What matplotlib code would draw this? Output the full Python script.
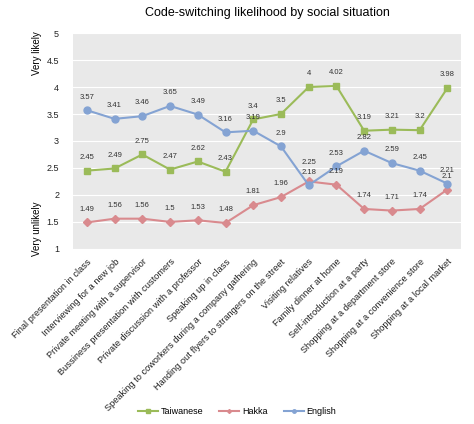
import matplotlib.pyplot as plt

plt.rcParams['font.family'] = ['Liberation Sans', 'DejaVu Sans']

situations = [
    'Final presentation in class',
    'Interviewing for a new job',
    'Private meeting with a supervisor',
    'Bussiness presentation with customers',
    'Private discussion with a professor',
    'Speaking up in class',
    'Speaking to coworkers during a company gathering',
    'Handing out flyers to strangers on the street',
    'Visiting relatives',
    'Family dinner at home',
    'Self-introduction at a party',
    'Shopping at a department store',
    'Shopping at a convenience store',
    'Shopping at a local market',
]
taiwanese = [2.45, 2.49, 2.75, 2.47, 2.62, 2.43, 3.4, 3.5, 4, 4.02, 3.19, 3.21, 3.2, 3.98]
hakka = [1.49, 1.56, 1.56, 1.5, 1.53, 1.48, 1.81, 1.96, 2.25, 2.19, 1.74, 1.71, 1.74, 2.1]
english = [3.57, 3.41, 3.46, 3.65, 3.49, 3.16, 3.19, 2.9, 2.18, 2.53, 2.82, 2.59, 2.45, 2.21]

fig = plt.figure(figsize=(4.74, 4.24), dpi=100)
ax = fig.add_axes([0.154, 0.413, 0.819, 0.509])
ax.set_facecolor('#e9e9e9')

x = range(len(situations))
series = [
    ('Taiwanese', taiwanese, '#9bbb59', 's'),
    ('Hakka', hakka, '#d98a8e', 'D'),
    ('English', english, '#84a3d3', 'o'),
]
for name, vals, col, mk in series:
    ax.plot(x, vals, color=col, marker=mk, markersize=5 if mk != 'D' else 4,
            linewidth=1.5, label=name)
    for i, v in zip(x, vals):
        # the Hakka and English labels at "Visiting relatives" sit on top of each other
        dy = 11 if (name == 'Hakka' and i == 8) else 7
        ax.annotate(f'{v:g}', (i, v), xytext=(0, dy), textcoords='offset points',
                    ha='center', va='bottom', fontsize=5.5, color='#333333')

ax.set_xlim(-0.5, len(situations) - 0.5)
ax.set_ylim(1, 5)
ax.set_yticks([1, 1.5, 2, 2.5, 3, 3.5, 4, 4.5, 5])
ax.set_yticklabels(['1', '1.5', '2', '2.5', '3', '3.5', '4', '4.5', '5'])
ax.yaxis.grid(True, color='white', linewidth=0.8)
ax.set_axisbelow(True)
ax.set_xticks(list(x))
ax.set_xticklabels(situations, rotation=45, ha='right', rotation_mode='anchor')
ax.tick_params(axis='x', length=0, labelsize=6.7, colors='#222222', pad=6)
ax.tick_params(axis='y', length=0, labelsize=6.5, colors='#222222', pad=10)
for s in ax.spines.values():
    s.set_visible(False)

ax.set_title('Code-switching likelihood by social situation', fontsize=9, pad=12)

fig.text(0.078, 0.875, 'Very likely', rotation=90, ha='center', va='center', fontsize=7)
fig.text(0.078, 0.46, 'Very unlikely', rotation=90, ha='center', va='center', fontsize=7)

fig.legend(loc='lower center', bbox_to_anchor=(0.5, 0.0), ncol=3, frameon=False,
           fontsize=6.5, markerscale=0.5, handlelength=2.2, handletextpad=0.3,
           columnspacing=1.8)

fig.savefig('out.png', dpi=100)
